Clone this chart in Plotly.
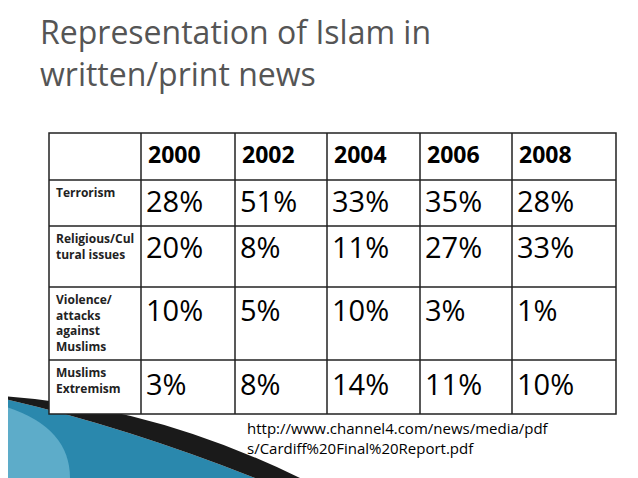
import plotly.graph_objects as go

years = ["2000", "2002", "2004", "2006", "2008"]
topics = ["Terrorism", "Religious/Cul<br>tural issues", "Violence/<br>attacks<br>against<br>Muslims", "Muslims<br>Extremism"]
values = [
    ["28%", "51%", "33%", "35%", "28%"],
    ["20%", "8%", "11%", "27%", "33%"],
    ["10%", "5%", "10%", "3%", "1%"],
    ["3%", "8%", "14%", "11%", "10%"],
]

# table geometry in pixels (y downward)
col_x = [49, 141, 235, 327, 420, 512, 616]
row_y = [133, 180, 226, 287, 360, 414]
val_y = [205, 251, 314, 388]

fig = go.Figure()

# bottom-left swoosh decoration
fig.add_shape(type="path", path="M0,398 L0,478 L255,478 Q120,425 0,398 Z",
              fillcolor="#2a88ad", line=dict(width=0), layer="below")
fig.add_shape(type="path", path="M0,396 Q150,405 300,478 L255,478 Q120,425 0,398 Z",
              fillcolor="#1a1a1a", line=dict(width=0), layer="below")
fig.add_shape(type="path", path="M0,405 Q70,425 70,478 L0,478 Z",
              fillcolor="#8fd0e6", line=dict(width=0), layer="below", opacity=0.5)

# table
fig.add_shape(type="rect", x0=col_x[0], x1=col_x[-1], y0=row_y[0], y1=row_y[-1],
              fillcolor="white", line=dict(color="#222", width=1.5), layer="below")
for x in col_x[1:-1]:
    fig.add_shape(type="line", x0=x, x1=x, y0=row_y[0], y1=row_y[-1],
                  line=dict(color="#222", width=1.5), layer="below")
for y in row_y[1:-1]:
    fig.add_shape(type="line", x0=col_x[0], x1=col_x[-1], y0=y, y1=y,
                  line=dict(color="#222", width=1.5), layer="below")

# header years
fig.add_trace(go.Scatter(
    x=[col_x[i + 1] + 7 for i in range(len(years))], y=[157] * len(years),
    mode="text", text=["<b>%s</b>" % y for y in years], textposition="middle right",
    textfont=dict(family="Open Sans", size=23, color="black"), hoverinfo="skip"))

# values
xs, ys, ts = [], [], []
for r, row in enumerate(values):
    for c, v in enumerate(row):
        xs.append(col_x[c + 1] + 5)
        ys.append(val_y[r])
        ts.append(v)
fig.add_trace(go.Scatter(x=xs, y=ys, mode="text", text=ts, textposition="middle right",
                         textfont=dict(family="Open Sans", size=29, color="black"), hoverinfo="skip"))

# row labels
for r, t in enumerate(topics):
    fig.add_annotation(x=col_x[0] + 5, y=row_y[r + 1] + 2, text="<b>%s</b>" % t,
                       showarrow=False, xanchor="left", yanchor="top", align="left",
                       font=dict(family="Open Sans", size=12, color="#222"))

fig.add_annotation(x=38, y=8, text="Representation of Islam in<br>written/print news",
                   showarrow=False, xanchor="left", yanchor="top", align="left",
                   font=dict(family="Open Sans", size=32, color="#555555"))
fig.add_annotation(x=245, y=416, text="http://www.channel4.com/news/media/pdf<br>s/Cardiff%20Final%20Report.pdf",
                   showarrow=False, xanchor="left", yanchor="top", align="left",
                   font=dict(family="Open Sans", size=15, color="black"))

fig.update_layout(
    width=638, height=478, margin=dict(l=0, r=0, t=0, b=0),
    paper_bgcolor="white", plot_bgcolor="white", showlegend=False,
    xaxis=dict(range=[8, 646], visible=False, fixedrange=True),
    yaxis=dict(range=[486, 8], visible=False, fixedrange=True),
)

fig.write_html("out.html")
